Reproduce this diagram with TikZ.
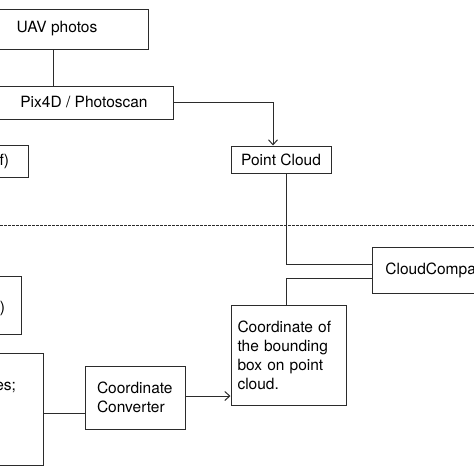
\documentclass[tikz,border=0pt]{standalone}
\usepackage{fontspec}
\setmainfont{TeX Gyre Heros}
\usetikzlibrary{arrows.meta}
\usetikzlibrary{positioning}
\definecolor{mline}{rgb}{0.17, 0.17, 0.17}
\tikzset{box/.style = {draw = mline, line width = 1pt, rectangle, inner sep = 0,
                       font = \fontsize{15.5}{19}\selectfont}}
\tikzset{link/.style = {draw = mline, line width = 1pt}}
\tikzset{arr/.style = {link, -{Straight Barb[length = 5pt, width = 9pt]}}}
\tikzset{sep/.style = {draw = mline, line width = 0.9pt, dash pattern = on 2.6pt off 1.4pt}}

\begin{document}
\begin{tikzpicture}[x = 1pt, y = -1pt]
      \useasboundingbox (0, 0) rectangle (474, 474);
      \clip (0, 0) rectangle (474, 474);

      \node [box, minimum width = 182, minimum height = 40] (uav) at (57, 29) {UAV photos};
      \node [box, minimum width = 178, minimum height = 33] (pix) at (84, 102.5) {Pix4D / Photoscan};
      \node [box, minimum width = 100, minimum height = 27] (pc) at (281, 159.5) {Point Cloud};
      \node [box, text width = 50, inner xsep = 19, align = right, minimum height = 32] (tif) at (-16, 161) {f)};

      \draw [sep] (0, 225) -- (474, 225);

      \node [box, anchor = west, inner xsep = 9, minimum width = 130, minimum height = 46,
             align = left] (cmp) at (372, 270) {CloudCompare};
      \node [box, text width = 69, inner xsep = 16, align = right, minimum height = 58] (crs) at (-29.5, 305) {\mbox{}\\)};
      \node [box, text width = 89, inner xsep = 27, align = right, minimum height = 112] (img) at (-28.5, 409)
            {\mbox{}\\es;\\\mbox{}\\\mbox{}\\\mbox{}};
      \node [box, text width = 76, inner xsep = 12, align = left, minimum height = 63] (conv) at (135, 397.5)
            {Coordinate\\Converter};
      \node [box, text width = 102, inner xsep = 6.5, align = left, minimum height = 100] (bbox) at (288.5, 355)
            {Coordinate of\\the bounding\\box on point\\cloud.};

      \draw [link] ([xshift = -4pt]uav.south) -- ([xshift = -4pt]uav.south |- pix.north);
      \draw [arr] (pix.east) -| ([xshift = -8pt]pc.north);
      \draw [link] ([xshift = 5pt]pc.south) |- ([yshift = 6pt]cmp.west);
      \draw [link] ([yshift = -8pt]cmp.west) -| ([xshift = -2.5pt]bbox.north);
      \draw [link] ([yshift = -4pt]img.east) -- ([yshift = -4pt]img.east -| conv.west);
      \draw [arr] ([yshift = 1.5pt]conv.east) -- ([yshift = 1.5pt]conv.east -| bbox.west);
    \end{tikzpicture}
\end{document}
